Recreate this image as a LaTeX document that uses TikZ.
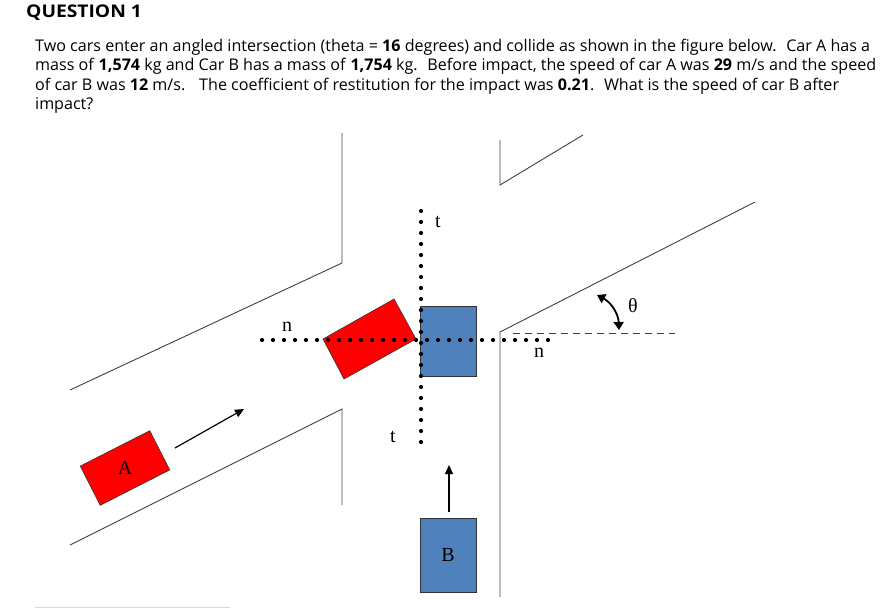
\documentclass[tikz,border=0pt]{standalone}
\usepackage{fontspec}
\setmainfont{Open Sans}
\newfontfamily\titlefont{Open Sans}[FakeStretch=1.1]
\newfontfamily\serifA{Liberation Serif}
\usetikzlibrary{arrows.meta}
\begin{document}
\begin{tikzpicture}[x=1pt,y=-1pt,
  road/.style={draw=black!75,line width=0.9},
  dotline/.style={line width=4.2,line cap=round,dash pattern=on 0pt off 11pt},
  lbl/.style={font=\serifA\fontsize{20}{20}\selectfont,inner sep=0},
  redcar/.style={fill=red,draw=black!80,line width=0.6},
  bluecar/.style={fill={rgb,255:red,79;green,129;blue,189},draw=black!80,line width=0.6},
  arr/.style={line width=1.2,-{Triangle[length=9pt,width=8pt]}}]
\useasboundingbox (0,0) rectangle (888,612);
\node[anchor=west,inner sep=0,font=\titlefont\bfseries\fontsize{17.5}{18}\selectfont] (q) at (26,13) {QUESTION 1};
\node[anchor=north west,inner sep=0,align=left,font=\fontsize{16.1}{19.3}\selectfont] (txt) at (35,39) {Two cars enter an angled intersection (theta = \textbf{16} degrees) and collide as shown in the figure below.~ Car A has a\\mass of \textbf{1,574} kg and Car B has a mass of \textbf{1,754} kg.~ Before impact, the speed of car A was \textbf{29} m/s and the speed\\of car B was \textbf{12} m/s.~~ The coefficient of restitution for the impact was \textbf{0.21}.~ What is the speed of car B after\\impact?};
% roads
\draw[road] (70,390) -- (342,263) -- (342,133);
\draw[road] (70,545) -- (342,409) -- (342,505);
\draw[road] (500,597) -- (500,332) -- (755,202);
\draw[road] (500,140) -- (500,185) -- (583,135);
\draw[road,dashed,dash pattern=on 7pt off 5pt] (513,333) -- (675,333);
% dotted axes
\coordinate (tt) at (421,211); \coordinate (tb) at (421,449);
\coordinate (nl) at (262,340); \coordinate (nr) at (556,340);
% cars at impact
\draw[redcar] (323,339) -- (394,299) -- (416,339) -- (344,379) -- cycle;
\draw[bluecar] (420,306) rectangle (476,376);
\draw[dotline] (tt) -- (tb);
\draw[dotline] (nl) -- (nr);
\node[lbl] (t1) at (438,222) {t};
\node[lbl] (t2) at (393,437) {t};
\node[lbl] (n1) at (287,327) {n};
\node[lbl] (n2) at (539,353) {n};
% theta
\coordinate (th1) at (597,295); \coordinate (th2) at (619,330);
\draw[line width=1.8,{Triangle[length=8pt,width=10pt]}-{Triangle[length=8pt,width=10pt]}] (th1) to[bend left=30] (th2);
\node[lbl] (th) at (633,306) {θ};
% car A
\node[redcar,rotate=27,minimum width=78pt,minimum height=44pt,inner sep=0] (A) at (125,468) {};
\node[lbl] at (A) {A};
\coordinate (a1) at (175,448); \coordinate (a2) at (244,409);
\draw[arr] (a1) -- (a2);
% car B
\node[bluecar,minimum width=56pt,minimum height=74pt,inner sep=0] (B) at (448,555) {};
\node[lbl] at (B) {B};
\coordinate (b1) at (449,512);
\draw[arr] (b1) -- (449,465);
\draw[black!15,line width=1] (35,607) -- (230,607);
\end{tikzpicture}
\end{document}
